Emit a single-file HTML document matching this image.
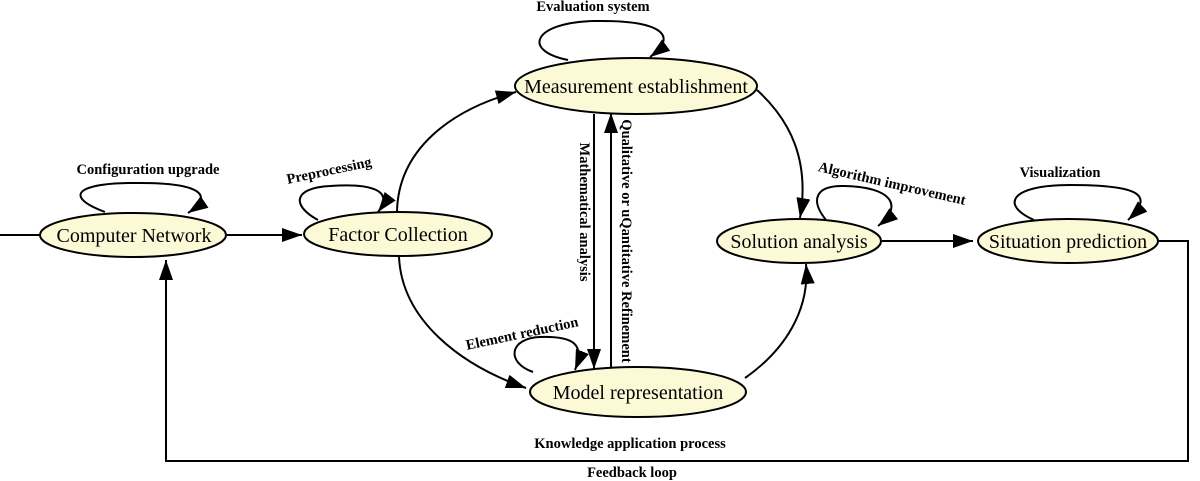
<!DOCTYPE html>
<html><head><meta charset="utf-8"><style>
html,body{margin:0;padding:0;background:#fff;}
svg{display:block;}
.n{font-family:"Liberation Serif",serif;font-size:20px;}
.l{font-family:"Liberation Serif",serif;font-size:14.5px;font-weight:bold;}
</style></head><body>
<svg width="1200" height="481" viewBox="0 0 1200 481" xmlns="http://www.w3.org/2000/svg">
<defs>
<marker id="a" markerUnits="userSpaceOnUse" markerWidth="22" markerHeight="14" refX="20" refY="7" orient="auto">
<path d="M0,0 L20,7 L0,14 Z" fill="#000"/>
</marker>
</defs>
<g fill="none" stroke="#000" stroke-width="2">
<path d="M0,235 H40"/>
<path d="M227,235 H302" marker-end="url(#a)"/>
<path d="M105,212 C60,195 80,182 140,183 C200,183 215,195 188,213" marker-end="url(#a)"/>
<path d="M318,220 C292,206 292,188 330,186 C370,183 395,190 378,212" marker-end="url(#a)"/>
<path d="M397,212 C398,150 450,110 516,92" marker-end="url(#a)"/>
<path d="M399,257 C402,320 460,365 526,388" marker-end="url(#a)"/>
<path d="M568,60 C520,50 535,22 595,21 C660,20 680,35 650,57" marker-end="url(#a)"/>
<path d="M594,114 V369" marker-end="url(#a)"/>
<path d="M611,368 V113" marker-end="url(#a)"/>
<path d="M757,90 C790,120 810,160 800,218" marker-end="url(#a)"/>
<path d="M745,378 C785,350 810,310 806,264" marker-end="url(#a)"/>
<path d="M533,372 C505,362 510,338 540,337 C575,336 585,345 575,370" marker-end="url(#a)"/>
<path d="M826,220 C810,200 815,185 845,186 C890,187 905,205 878,226" marker-end="url(#a)"/>
<path d="M882,241 H973" marker-end="url(#a)"/>
<path d="M1034,220 C1000,205 1010,185 1070,185 C1140,185 1155,195 1128,220" marker-end="url(#a)"/>
<path d="M1158,241 H1188 V461 H166 V260" marker-end="url(#a)"/>
</g>
<g fill="#fcf9d6" stroke="#000" stroke-width="2">
<ellipse cx="133" cy="235" rx="93" ry="22"/>
<ellipse cx="398" cy="234" rx="94" ry="22"/>
<ellipse cx="636" cy="86" rx="121" ry="28"/>
<ellipse cx="638" cy="392" rx="108" ry="25"/>
<ellipse cx="799" cy="241" rx="82" ry="22"/>
<ellipse cx="1068" cy="241" rx="90" ry="22"/>
</g>
<g class="n" text-anchor="middle">
<text x="134" y="242">Computer Network</text>
<text x="398" y="241">Factor Collection</text>
<text x="636" y="93">Measurement establishment</text>
<text x="638" y="399">Model representation</text>
<text x="799" y="248">Solution analysis</text>
<text x="1068" y="248">Situation prediction</text>
</g>
<g class="l" text-anchor="middle">
<text x="148" y="174">Configuration upgrade</text>
<text x="330" y="175" transform="rotate(-12 330 175)">Preprocessing</text>
<text x="593" y="11">Evaluation system</text>
<text x="523" y="338" transform="rotate(-12 523 338)">Element reduction</text>
<text x="891" y="188" transform="rotate(13 891 188)">Algorithm improvement</text>
<text x="1060" y="177">Visualization</text>
<text x="580" y="212" transform="rotate(90 580 212)">Mathematical analysis</text>
<text x="622" y="241" transform="rotate(90 622 241)">Qualitative or uQantitative Refinement</text>
<text x="630" y="448">Knowledge application process</text>
<text x="632" y="477">Feedback loop</text>
</g>
</svg>
</body></html>
